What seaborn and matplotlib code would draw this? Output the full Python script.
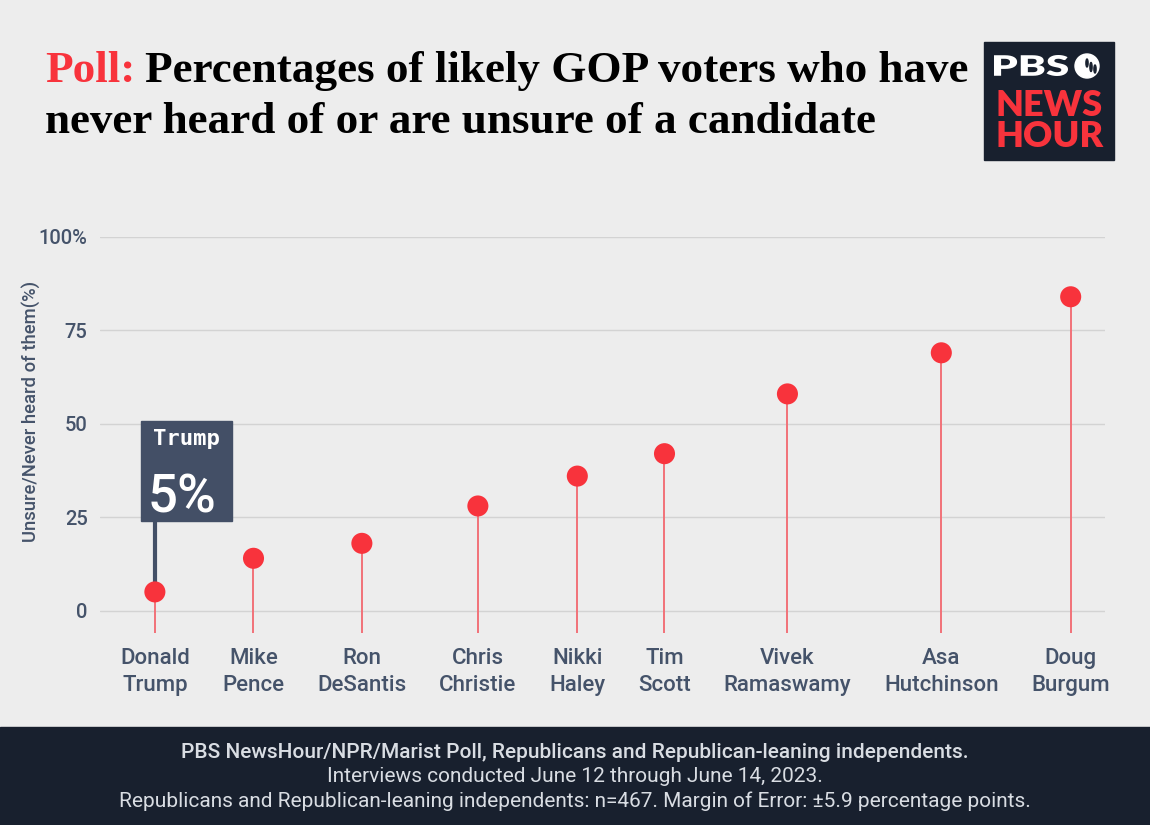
import numpy as np
import pandas as pd
import seaborn as sns
import matplotlib.pyplot as plt
from matplotlib.patches import Rectangle, Ellipse, PathPatch
from matplotlib.textpath import TextPath
from matplotlib.font_manager import FontProperties
from matplotlib.transforms import Affine2D

# data
candidates = ["Donald\nTrump", "Mike\nPence", "Ron\nDeSantis", "Chris\nChristie", "Nikki\nHaley",
              "Tim\nScott", "Vivek\nRamaswamy", "Asa\nHutchinson", "Doug\nBurgum"]
unsure_pct = [5, 14, 18, 28, 36, 42, 58, 69, 84]
y_ticks = [0, 25, 50, 75, 100]
y_tick_labels = ["0", "25", "50", "75", "100%"]
highlight = "Trump"

title_lead = "Poll:"
title_line1 = "Percentages of likely GOP voters who have"
title_line2 = "never heard of or are unsure of a candidate"
y_label = "Unsure/Never heard of them(%)"
footer_lines = [
    "PBS NewsHour/NPR/Marist Poll, Republicans and Republican-leaning independents.",
    "Interviews conducted June 12 through June 14, 2023.",
    "Republicans and Republican-leaning independents: n=467. Margin of Error: \u00b15.9 percentage points.",
]

W, H = 1150, 825
BG = "#ededed"
RED = "#f8333c"
STEM = "#f27178"
SLATE = "#45536a"
BOX = "#434f66"
NAVY = "#18202e"


def fx(px):
    return px / W


def fy(py):
    return 1 - py / H


sns.set_theme(style="whitegrid", rc={
    "axes.facecolor": BG,
    "figure.facecolor": BG,
    "grid.color": "#d3d3d3",
    "grid.linewidth": 1.0,
})
plt.rcParams["font.family"] = ["Roboto", "DejaVu Sans"]

fig = plt.figure(figsize=(W / 100, H / 100), dpi=100, facecolor=BG)
ax = fig.add_axes([fx(100), fy(633), 1005 / W, (633 - 237) / H])
renderer = fig.canvas.get_renderer()

# spread the categories like the original: equal gaps between label boxes
label_font = dict(fontsize=16, fontweight="medium", linespacing=1.36)
widths = []
for name in candidates:
    t = fig.text(0, 0, name, **label_font)
    widths.append(t.get_window_extent(renderer).width)
    t.remove()
start, end = 20, 1010
gap = (end - start - sum(widths)) / (len(widths) - 1)
x_pos = []
cursor = start
for w in widths:
    x_pos.append(cursor + w / 2)
    cursor += w + gap

df = pd.DataFrame({"candidate": candidates, "pct": unsure_pct, "x": x_pos})
y_bottom = -6

ax.vlines(df["x"], y_bottom, df["pct"], color=STEM, lw=1.4, zorder=2)
sns.scatterplot(data=df, x="x", y="pct", s=230, color=RED, edgecolor="none",
                zorder=4, ax=ax, legend=False)

# highlighted callout
row = df[df["candidate"].str.contains(highlight)].iloc[0]
box_bottom, box_top = 24, 50.8
ax.vlines(row["x"], row["pct"], box_bottom, color=BOX, lw=3, zorder=3)
ax.add_patch(Rectangle((row["x"] - 14, box_bottom), 91, box_top - box_bottom,
                       color=BOX, zorder=5, clip_on=False))
ax.text(row["x"] + 32, 44.2, highlight, color="white", fontsize=16,
        family="DejaVu Sans Mono", fontweight="bold", ha="center", va="baseline", zorder=6)
ax.text(row["x"] + 27, 26.3, f"{row['pct']}%", color="white", fontsize=38,
        fontweight="medium", ha="center", va="baseline", zorder=6)

ax.set_xlim(0, 1005)
ax.set_ylim(y_bottom, 100)
ax.set_xticks(df["x"], df["candidate"], **label_font, color=SLATE)
ax.set_yticks(y_ticks, y_tick_labels, fontsize=14.5, fontweight="medium", color=SLATE)
ax.tick_params(axis="both", length=0)
ax.tick_params(axis="x", pad=11)
ax.tick_params(axis="y", pad=9)
ax.grid(axis="x", visible=False)
ax.set_xlabel("")
ax.set_ylabel(y_label, fontsize=13.3, fontweight="medium", color=SLATE)
ax.yaxis.set_label_coords((41 - 100) / 1005, (633 - 411) / 396)
for s in ax.spines.values():
    s.set_visible(False)

# title, two colours on the first line
title_font = dict(fontsize=32.5, family="Liberation Serif", fontweight="bold", va="baseline")
lead = fig.text(fx(45), fy(82), title_lead, color=RED, **title_font)
lead_w = lead.get_window_extent(renderer).width
fig.text(fx(45 + lead_w + 10), fy(82), title_line1, color="black", **title_font)
fig.text(fx(45), fy(133), title_line2, color="black", **title_font)

# logo block
fig.patches.append(Rectangle((fx(984), fy(160)), 130 / W, 118 / H,
                             transform=fig.transFigure, color=NAVY, zorder=1))
logo_prop = FontProperties(family="Lato", weight="heavy")
pbs = TextPath((0, 0), "PBS", size=1, prop=logo_prop)
ext = pbs.get_extents()
sx, sy = 74 / ext.width, 21 / ext.height
fig.add_artist(PathPatch(pbs, color="white", lw=0, zorder=2,
                         transform=Affine2D().translate(-ext.x0, -ext.y0)
                         .scale(sx, sy).translate(994, H - 76)))
fig.patches.append(Ellipse((fx(1087), fy(66)), 24 / W, 24 / H, transform=fig.transFigure,
                           color="white", zorder=2))
for dx, dy, h in [(0, -3, 8), (4, 1, 9), (8, 3, 8)]:
    fig.patches.append(Ellipse((fx(1087 + dx), fy(66 + dy)), 2.2 / W, h / H,
                               transform=fig.transFigure, color=NAVY, zorder=3))
logo_font = dict(family="Lato", fontweight="heavy", va="baseline", zorder=2)
fig.text(fx(995), fy(116), "NEWS", color=RED, fontsize=26, **logo_font)
fig.text(fx(995), fy(147), "HOUR", color=RED, fontsize=26, **logo_font)

# footer band
fig.patches.append(Rectangle((0, 0), 1, (H - 727) / H, transform=fig.transFigure,
                             color=NAVY, zorder=1))
for i, (line, py) in enumerate(zip(footer_lines, [752, 776, 801])):
    fig.text(0.5, fy(py), line, color="#d9dde3", fontsize=15,
             fontweight="medium" if i == 0 else "normal",
             ha="center", va="center", zorder=2)

fig.savefig("out.png", dpi=100, facecolor=BG)
